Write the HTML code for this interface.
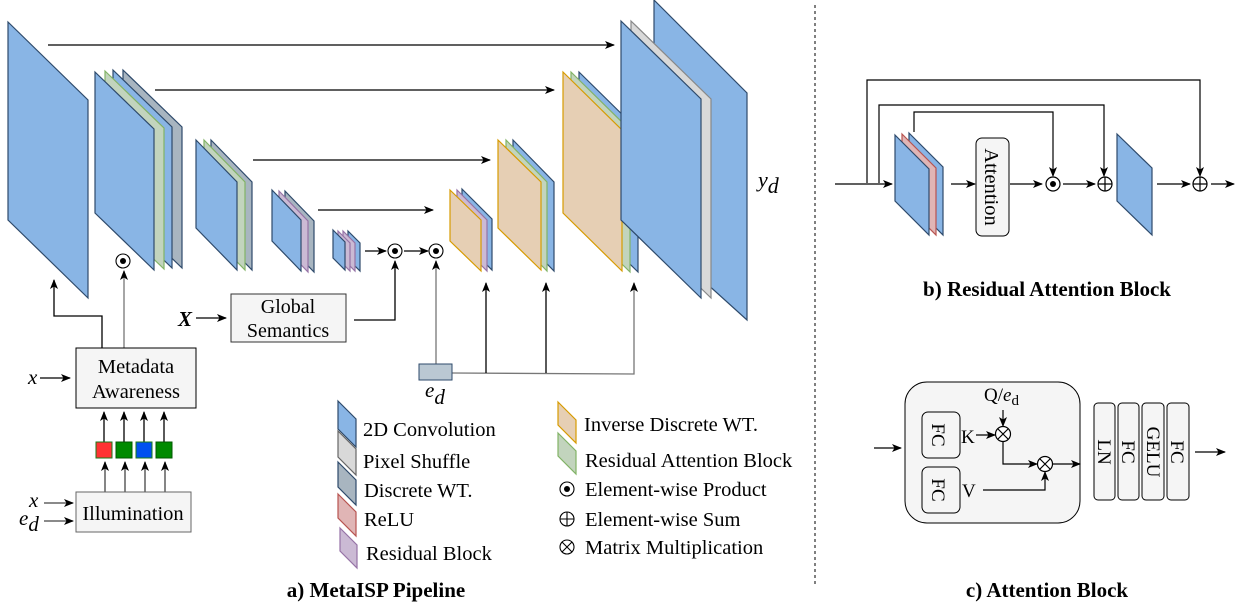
<!DOCTYPE html>
<html><head><meta charset="utf-8"><style>body{margin:0;background:#fff}svg{display:block}text{font-family:"Liberation Serif",serif}</style></head><body>
<svg width="1245" height="605" viewBox="0 0 1245 605" xmlns="http://www.w3.org/2000/svg">
<defs>
<marker id="a" markerWidth="10" markerHeight="8" refX="9" refY="4" orient="auto" markerUnits="userSpaceOnUse"><path d="M0,0 L10,4 L0,8 L2.5,4 z" fill="#000"/></marker>
</defs>
<g stroke-width="1.2">
<polygon points="8,22 88,100 88,298 8,220" fill="#89b5e5" stroke="#2e4a6b"/>
<polygon points="123,70 182,127 182,268 123,211" fill="#a8b5c0" stroke="#2e4a6b"/>
<polygon points="113,70 172,127 172,268 113,211" fill="#89b5e5" stroke="#2e4a6b"/>
<polygon points="105,71 164,128 164,269 105,212" fill="#c2d4bd" stroke="#82b366"/>
<polygon points="95,72 154,129 154,270 95,213" fill="#89b5e5" stroke="#2e4a6b"/>
<polygon points="211,140 252,182 252,270 211,228" fill="#a8b5c0" stroke="#2e4a6b"/>
<polygon points="204,140 245,182 245,270 204,228" fill="#c2d4bd" stroke="#82b366"/>
<polygon points="196,140 237,182 237,270 196,228" fill="#89b5e5" stroke="#2e4a6b"/>
<polygon points="285,191 314,221 314,272 285,242" fill="#a8b5c0" stroke="#2e4a6b"/>
<polygon points="279,191 308,221 308,272 279,242" fill="#cbbad4" stroke="#9673a6"/>
<polygon points="272,190 301,220 301,271 272,241" fill="#89b5e5" stroke="#2e4a6b"/>
<polygon points="348,231 360,243 360,271 348,259" fill="#89b5e5" stroke="#2e4a6b"/>
<polygon points="343,231 355,243 355,271 343,259" fill="#cbbad4" stroke="#9673a6"/>
<polygon points="338,231 350,243 350,271 338,259" fill="#cbbad4" stroke="#9673a6"/>
<polygon points="333,230 345,242 345,270 333,258" fill="#89b5e5" stroke="#2e4a6b"/>
<polygon points="462,189 492,219 492,270 462,240" fill="#89b5e5" stroke="#2e4a6b"/>
<polygon points="457,190 487,220 487,271 457,241" fill="#cbbad4" stroke="#9673a6"/>
<polygon points="450,190 481,220 481,271 450,241" fill="#e6cfb4" stroke="#d79b00"/>
<polygon points="513,140 554,182 554,271 513,229" fill="#89b5e5" stroke="#2e4a6b"/>
<polygon points="506,140 547,182 547,271 506,229" fill="#c2d4bd" stroke="#82b366"/>
<polygon points="498,140 541,182 541,270 498,228" fill="#e6cfb4" stroke="#d79b00"/>
<polygon points="654,0 747,93 747,320 654,236" fill="#89b5e5" stroke="#2e4a6b"/>
<polygon points="579,72 638,130 638,272 579,214" fill="#89b5e5" stroke="#2e4a6b"/>
<polygon points="571,72 630,130 630,272 571,214" fill="#c2d4bd" stroke="#82b366"/>
<polygon points="563,72 622,130 622,271 563,213" fill="#e6cfb4" stroke="#d79b00"/>
<polygon points="631,21 711,99 711,298 631,220" fill="#d9d9d9" stroke="#888"/>
<polygon points="621,21 701,99 701,298 621,220" fill="#89b5e5" stroke="#2e4a6b"/>
</g>
<g stroke="#000" stroke-width="1.3" fill="none">
<line x1="48" y1="45" x2="614" y2="45" marker-end="url(#a)"/>
<line x1="155" y1="90" x2="554" y2="90" marker-end="url(#a)"/>
<line x1="253" y1="160" x2="490" y2="160" marker-end="url(#a)"/>
<line x1="318" y1="210" x2="433" y2="210" marker-end="url(#a)"/>
<line x1="365" y1="251" x2="386" y2="251" marker-end="url(#a)"/>
<line x1="404" y1="251" x2="428" y2="251" marker-end="url(#a)"/>
<polyline points="354,320 395,320 395,261" marker-end="url(#a)"/>
<polyline points="436,364 436,261" stroke="#777" marker-end="url(#a)"/>
<polyline points="452,373 634,374 634,283" stroke="#777" marker-end="url(#a)"/>
<line x1="486" y1="373" x2="486" y2="283" marker-end="url(#a)"/>
<line x1="546" y1="373" x2="546" y2="283" marker-end="url(#a)"/>
<polyline points="102,348 102,316 54,316 54,280" marker-end="url(#a)"/>
<line x1="124" y1="348" x2="124" y2="271" stroke="#777" marker-end="url(#a)"/>
<line x1="196" y1="318" x2="226" y2="318" marker-end="url(#a)"/>
<line x1="40" y1="378" x2="70" y2="378" marker-end="url(#a)"/>
<line x1="104" y1="442" x2="104" y2="412" marker-end="url(#a)"/>
<line x1="124" y1="442" x2="124" y2="412" marker-end="url(#a)"/>
<line x1="144" y1="442" x2="144" y2="412" marker-end="url(#a)"/>
<line x1="164" y1="442" x2="164" y2="412" marker-end="url(#a)"/>
<line x1="105" y1="492" x2="105" y2="462" stroke="#444" marker-end="url(#a)"/>
<line x1="125" y1="492" x2="125" y2="462" stroke="#444" marker-end="url(#a)"/>
<line x1="145" y1="492" x2="145" y2="462" stroke="#444" marker-end="url(#a)"/>
<line x1="165" y1="492" x2="165" y2="462" stroke="#444" marker-end="url(#a)"/>
<line x1="44" y1="503" x2="73" y2="503" stroke="#444" marker-end="url(#a)"/>
<line x1="44" y1="521" x2="73" y2="521" stroke="#444" marker-end="url(#a)"/>
</g>
<g fill="#fff" stroke="#000" stroke-width="1.1">
<circle cx="395" cy="251" r="7"/><circle cx="436" cy="251" r="7"/><circle cx="123" cy="261" r="7"/>
</g>
<g fill="#000"><circle cx="395" cy="251" r="3"/><circle cx="436" cy="251" r="3"/><circle cx="123" cy="261" r="3"/></g>
<rect x="231" y="294" width="115" height="48" fill="#f5f5f5" stroke="#333"/>
<text x="288" y="313" font-size="20" text-anchor="middle">Global</text>
<text x="288" y="337" font-size="20" text-anchor="middle">Semantics</text>
<text x="178" y="326" font-size="21" font-weight="bold" font-style="italic">X</text>
<rect x="419" y="364" width="33" height="16" fill="#bac8d3" stroke="#2e4a6b"/>
<text x="425" y="397" font-size="21" font-style="italic">e<tspan dy="7">d</tspan></text>
<rect x="76" y="348" width="120" height="60" fill="#f5f5f5" stroke="#000"/>
<text x="136" y="373" font-size="20.5" text-anchor="middle">Metadata</text>
<text x="136" y="398" font-size="20.5" text-anchor="middle">Awareness</text>
<text x="28" y="384" font-size="21" font-style="italic">x</text>
<rect x="96" y="442" width="16" height="16" fill="#ff3333" stroke="#1a7a1a"/>
<rect x="116" y="442" width="16" height="16" fill="#008a00" stroke="#005a00"/>
<rect x="136" y="442" width="16" height="16" fill="#0050ef" stroke="#1a7a1a"/>
<rect x="156" y="442" width="16" height="16" fill="#008a00" stroke="#005a00"/>
<rect x="76" y="492" width="115" height="40" fill="#f5f5f5" stroke="#666"/>
<text x="133" y="520" font-size="20.5" text-anchor="middle">Illumination</text>
<text x="29" y="507" font-size="21" font-style="italic">x</text>
<text x="19" y="525" font-size="21" font-style="italic">e<tspan dy="6">d</tspan></text>
<text x="758" y="187" font-size="22" font-style="italic">y<tspan dy="6">d</tspan></text>
<g stroke-width="1.2">
<polygon points="338,401 356,419 356,447 338,429" fill="#89b5e5" stroke="#2e4a6b"/>
<polygon points="338,431 356,449 356,475 338,457" fill="#d9d9d9" stroke="#666"/>
<polygon points="338,462 356,480 356,505 338,487" fill="#a8b5c0" stroke="#2e4a6b"/>
<polygon points="338,494 356,512 356,536 338,518" fill="#e0b5b5" stroke="#b85450"/>
<polygon points="340,528 357,545 357,568 340,551" fill="#cbbad4" stroke="#9673a6"/>
<polygon points="558,402 576,420 576,443 558,425" fill="#e6cfb4" stroke="#d79b00"/>
<polygon points="558,433 576,451 576,474 558,456" fill="#c2d4bd" stroke="#82b366"/>
</g>
<g font-size="20.5">
<text x="363" y="436">2D Convolution</text>
<text x="363" y="468">Pixel Shuffle</text>
<text x="364" y="497">Discrete WT.</text>
<text x="364" y="526">ReLU</text>
<text x="366" y="560">Residual Block</text>
<text x="584" y="431">Inverse Discrete WT.</text>
<text x="585" y="467">Residual Attention Block</text>
<text x="585" y="496">Element-wise Product</text>
<text x="585" y="526">Element-wise Sum</text>
<text x="585" y="554">Matrix Multiplication</text>
</g>
<g fill="none" stroke="#000" stroke-width="1.1">
<circle cx="567" cy="489" r="7"/>
<circle cx="567" cy="519" r="7"/><path d="M560,519h14M567,512v14"/>
<circle cx="567" cy="547" r="7"/><path d="M562,542l10,10M572,542l-10,10"/>
</g>
<circle cx="567" cy="489" r="3" fill="#000"/>
<text x="376" y="597" font-size="21" font-weight="bold" text-anchor="middle">a) MetaISP Pipeline</text>
<line x1="815" y1="5" x2="815" y2="585" stroke="#000" stroke-dasharray="3,3"/>
<g stroke-width="1.2">
<polygon points="909,133 943,167 943,235 909,201" fill="#89b5e5" stroke="#2e4a6b"/>
<polygon points="902,134 936,168 936,235 902,201" fill="#e0b5b5" stroke="#b85450"/>
<polygon points="895,135 929,169 929,235 895,201" fill="#89b5e5" stroke="#2e4a6b"/>
<polygon points="1117,134 1152,168 1152,235 1117,201" fill="#89b5e5" stroke="#2e4a6b"/>
</g>
<g fill="none" stroke="#000" stroke-width="1.2">
<line x1="835" y1="184" x2="892" y2="184" marker-end="url(#a)"/>
<polyline points="867,183 867,80 1200,80 1200,176" marker-end="url(#a)"/>
<polyline points="879,183 879,105 1104,105 1104,176" marker-end="url(#a)"/>
<polyline points="914,132 914,112 1053,112 1053,176" marker-end="url(#a)"/>
<line x1="951" y1="184" x2="975" y2="184" marker-end="url(#a)"/>
<line x1="1010" y1="184" x2="1042" y2="184" marker-end="url(#a)"/>
<line x1="1063" y1="184" x2="1095" y2="184" marker-end="url(#a)"/>
<line x1="1157" y1="184" x2="1190" y2="184" marker-end="url(#a)"/>
<line x1="1211" y1="184" x2="1234" y2="184" marker-end="url(#a)"/>
<circle cx="1053" cy="184" r="7" fill="#fff"/>
<circle cx="1105" cy="184" r="7" fill="#fff"/><path d="M1098,184h14M1105,177v14"/>
<circle cx="1200" cy="184" r="7" fill="#fff"/><path d="M1193,184h14M1200,177v14"/>
</g>
<circle cx="1053" cy="184" r="3" fill="#000"/>
<rect x="976" y="138" width="33" height="98" rx="6" fill="#f5f5f5" stroke="#000"/>
<text transform="translate(985,187) rotate(90)" font-size="20.5" text-anchor="middle">Attention</text>
<text x="1047" y="296" font-size="21" font-weight="bold" text-anchor="middle">b) Residual Attention Block</text>
<rect x="905" y="382" width="175" height="141" rx="22" fill="#f5f5f5" stroke="#000"/>
<rect x="922" y="412" width="38" height="46" rx="6" fill="#f5f5f5" stroke="#000"/>
<rect x="922" y="467" width="38" height="46" rx="6" fill="#f5f5f5" stroke="#000"/>
<text transform="translate(932,435) rotate(90)" font-size="19" text-anchor="middle">FC</text>
<text transform="translate(932,490) rotate(90)" font-size="19" text-anchor="middle">FC</text>
<text x="961" y="443" font-size="19">K</text>
<text x="962" y="497" font-size="19">V</text>
<text x="984" y="401" font-size="19">Q/<tspan font-style="italic">e</tspan><tspan font-size="15" dy="4">d</tspan></text>
<g fill="none" stroke="#000" stroke-width="1.2">
<line x1="874" y1="448" x2="901" y2="448" marker-end="url(#a)"/>
<line x1="976" y1="435" x2="995" y2="435" marker-end="url(#a)"/>
<line x1="1003" y1="410" x2="1003" y2="426" marker-end="url(#a)"/>
<polyline points="1003,442 1003,464 1037,464" marker-end="url(#a)"/>
<polyline points="983,490 1045,490 1045,472" marker-end="url(#a)"/>
<line x1="1053" y1="464" x2="1080" y2="464" marker-end="url(#a)"/>
<line x1="1195" y1="452" x2="1225" y2="452" marker-end="url(#a)"/>
<circle cx="1003" cy="434" r="7.5" fill="#fff"/><path d="M998,429l10,10M1008,429l-10,10"/>
<circle cx="1045" cy="464" r="7.5" fill="#fff"/><path d="M1040,459l10,10M1050,459l-10,10"/>
</g>
<g fill="#f5f5f5" stroke="#000">
<rect x="1094" y="403" width="21" height="97" rx="4"/>
<rect x="1118" y="403" width="21" height="97" rx="4"/>
<rect x="1142" y="403" width="22" height="97" rx="4"/>
<rect x="1167" y="403" width="22" height="97" rx="4"/>
</g>
<g font-size="19" text-anchor="middle">
<text transform="translate(1098,452) rotate(90)">LN</text>
<text transform="translate(1122,452) rotate(90)">FC</text>
<text transform="translate(1147,452) rotate(90)">GELU</text>
<text transform="translate(1171,452) rotate(90)">FC</text>
</g>
<text x="1047" y="597" font-size="21" font-weight="bold" text-anchor="middle">c) Attention Block</text>
</svg>
</body></html>
